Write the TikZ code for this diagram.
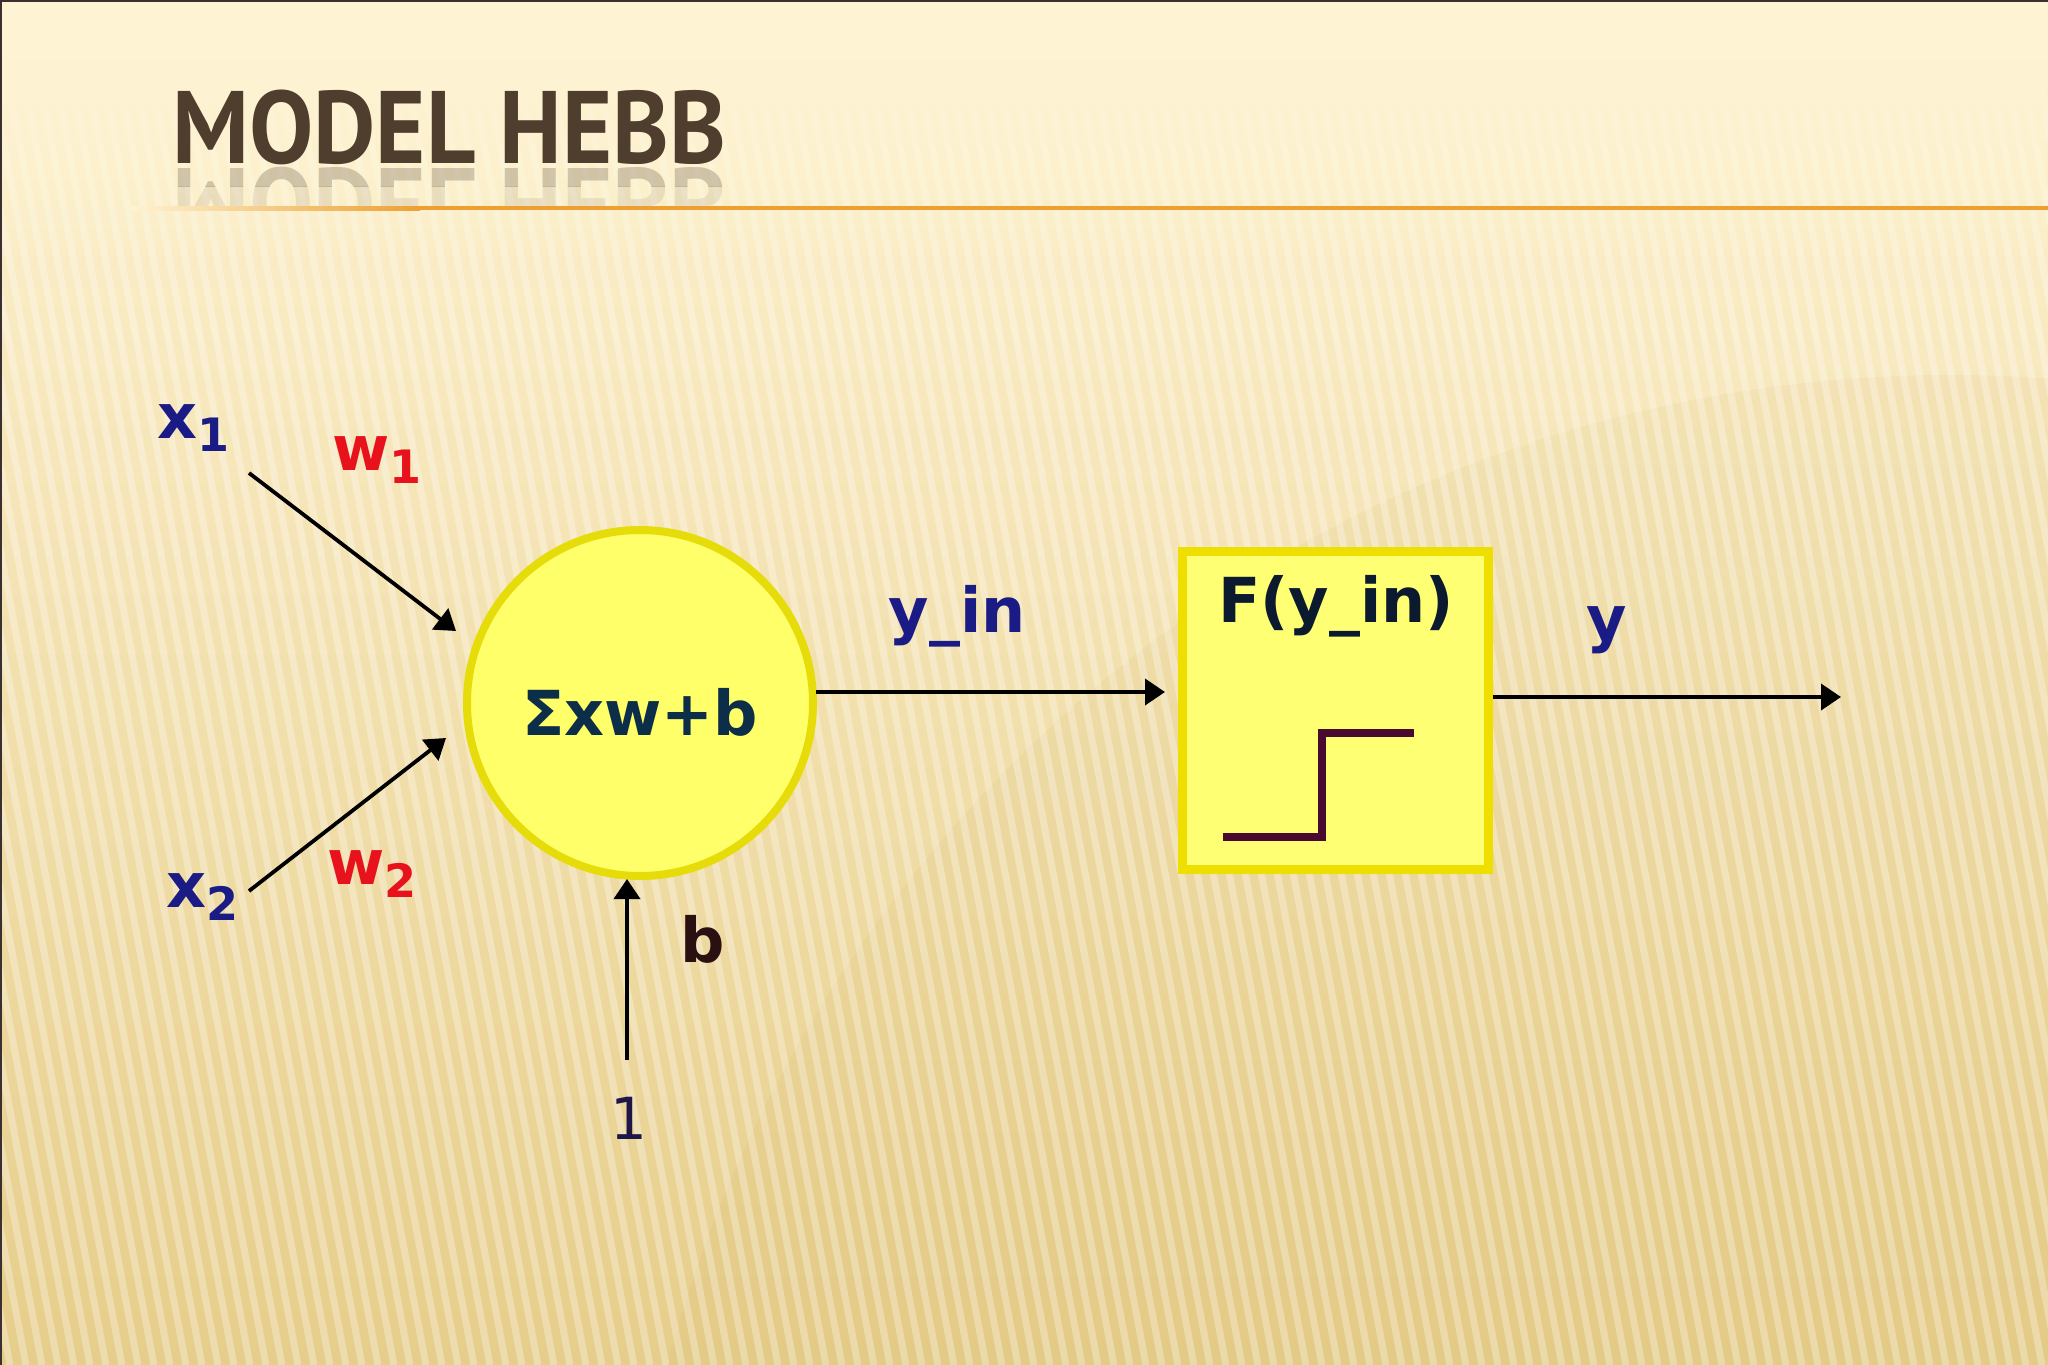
\documentclass[tikz,border=0pt]{standalone}
\usepackage{fontspec}
\setmainfont{DejaVu Sans}
\newfontfamily\titlefont{PT Sans}
\usetikzlibrary{arrows.meta,fadings}
\definecolor{bgtop}{HTML}{FEF3D2}
\definecolor{bgmid}{HTML}{F5E1A6}
\definecolor{bgbot}{HTML}{E6CD8A}
\definecolor{darkgold}{HTML}{C8A850}
\definecolor{titlec}{HTML}{4F3E2E}
\definecolor{orangeline}{HTML}{EDA032}
\definecolor{navy}{HTML}{1B1B86}
\definecolor{wred}{HTML}{E8121C}
\definecolor{sumc}{HTML}{0D2E48}
\definecolor{fc}{HTML}{0C1A30}
\definecolor{bc}{HTML}{2A1010}
\definecolor{onec}{HTML}{1E1648}
\definecolor{circborder}{HTML}{E6DC0A}
\definecolor{circfill}{HTML}{FFFF6A}
\definecolor{boxborder}{HTML}{EEDF00}
\definecolor{boxfill}{HTML}{FFFF74}
\definecolor{stepc}{HTML}{4A0A30}
\definecolor{framec}{HTML}{3A3030}
\tikzset{
  arr/.style={-{Triangle[length=20pt,width=26pt]}, line width=3.8, black},
  lbl/.style={inner sep=0, font=\bfseries\fontsize{62}{70}\selectfont},
  titletext/.style={anchor=base west, inner sep=0, text=titlec, font=\titlefont\bfseries\fontsize{103}{110}\selectfont},
}
\newcommand{\sbs}[1]{\raisebox{-13pt}{\fontsize{46}{50}\selectfont #1}}
\begin{document}
\begin{tikzpicture}[x=1pt,y=-1pt]
\useasboundingbox (0,0) rectangle (2048,1365);
% background
\shade[top color=bgtop, middle color=bgmid, bottom color=bgbot] (0,0) rectangle (2048,1365);
\begin{scope}
\clip (0,0) rectangle (2048,1365);
\fill[darkgold, opacity=0.08] (1950,1700) circle (1325);
\foreach \i in {-20,...,130}
  \draw[white, opacity=0.30, line width=7] (\i*16,40) -- ++(250,1325);
\end{scope}
\fill[bgtop] (0,0) rectangle (2048,60);
\fill[bgtop, path fading=south] (0,59) rectangle (2048,280);
\draw[framec, line width=3] (0,1365) -- (0,0) -- (2048,0);
% title
\node[titletext] (title) at (172,163) {\scalebox{0.934}[1]{MODEL HEBB}};
\begin{scope}
\clip (150,166) rectangle (760,186);
\node[titletext, opacity=0.25] (refl) at (172,168) {\scalebox{0.934}[-1]{MODEL HEBB}};
\end{scope}
\begin{scope}
\clip (150,186) rectangle (760,205);
\node[titletext, opacity=0.10] (refl2) at (172,168) {\scalebox{0.934}[-1]{MODEL HEBB}};
\end{scope}
\shade[left color=bgtop, right color=orangeline] (130,206) rectangle (420,210);
\fill[orangeline] (419,206) rectangle (2048,210);
% main nodes
\node[circle, draw=circborder, fill=circfill, line width=8, minimum size=346, inner sep=0] (sum) at (640,703) {};
\node[lbl, anchor=base, text=sumc] (sumtext) at (640,735) {Σxw+b};
\node[rectangle, draw=boxborder, fill=boxfill, line width=9, minimum width=306, minimum height=318, inner sep=0] (act) at (1335.5,710.5) {};
\node[lbl, anchor=base, text=fc] (ftext) at (1336,622) {F(y\_in)};
\draw[stepc, line width=8] (1223,837) -- (1322,837) -- (1322,733) -- (1414,733);
% labels
\node[lbl, anchor=base west, text=navy] (x1) at (157,438) {x\sbs{1}};
\node[lbl, anchor=base west, text=wred] (w1) at (332,470) {w\sbs{1}};
\node[lbl, anchor=base west, text=navy] (x2) at (166,907) {x\sbs{2}};
\node[lbl, anchor=base west, text=wred] (w2) at (327,884) {w\sbs{2}};
\node[lbl, anchor=base, text=navy] (yin) at (957,632) {y\_in};
\node[lbl, anchor=base, text=navy] (y) at (1607,640) {y};
\node[lbl, anchor=base west, text=bc] (b) at (680,962) {b};
\node[inner sep=0, anchor=base, text=onec, font=\fontsize{58}{64}\selectfont] (one) at (629,1139) {1};
% connectors
\coordinate (s1) at (249,473);
\coordinate (e1) at (456,631);
\coordinate (s2) at (249,891);
\coordinate (e2) at (446,738);
\coordinate (sb) at (627,1060);
\coordinate (eb) at (627,879);
\coordinate (so) at (816,692);
\coordinate (yout) at (1841,697);
\draw[arr] (s1) -- (e1);
\draw[arr] (s2) -- (e2);
\draw[arr] (sb) -- (eb);
\draw[arr, shorten >=13] (so) -- (act.west |- so);
\draw[arr] (act.east |- yout) -- (yout);
\end{tikzpicture}
\end{document}
